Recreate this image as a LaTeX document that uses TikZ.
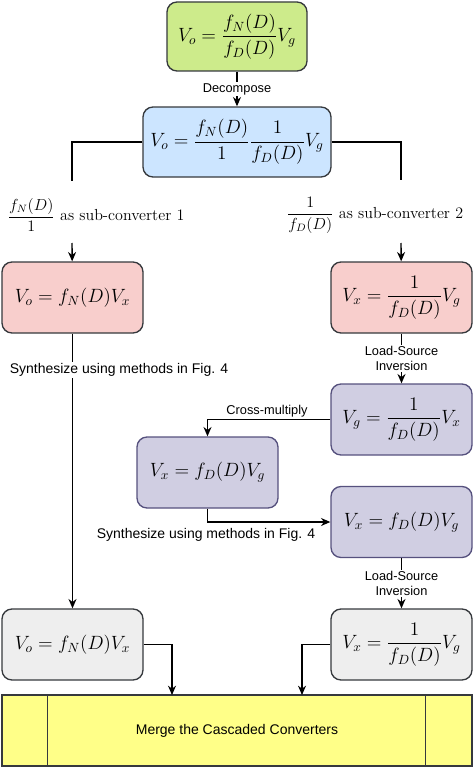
\documentclass[tikz,border=0pt]{standalone}
\usepackage{fontspec}
\usepackage{amsmath}
\newfontfamily\labfont{Liberation Sans}
\usetikzlibrary{arrows.meta,calc}
\definecolor{bd}{HTML}{36393D}
\definecolor{pbd}{HTML}{56517E}
\definecolor{cgreen}{HTML}{CDEB8B}
\definecolor{cblue}{HTML}{CCE5FF}
\definecolor{cred}{HTML}{F8CECC}
\definecolor{cpurp}{HTML}{D0CEE2}
\definecolor{cgray}{HTML}{EEEEEE}
\definecolor{cyell}{HTML}{FFFF88}
\begin{document}
\begin{tikzpicture}[x=0.75pt,y=-0.75pt,
  box/.style={draw=bd, line width=1pt, rounded corners=7.5pt, minimum width=105.75pt, minimum height=53.25pt, inner sep=0pt, font=\fontsize{13.7}{16}\selectfont, align=center},
  arr/.style={-{Stealth[length=7pt,width=6pt]}, line width=1.05pt},
  ln/.style={line width=1.05pt},
  lab/.style={font=\labfont\fontsize{9.6}{11.2}\selectfont, fill=white, inner sep=1pt, align=center},
  biglab/.style={font=\labfont\fontsize{10.5}{12}\selectfont, fill=white, inner sep=1pt, align=center},
  mlab/.style={font=\fontsize{12}{14}\selectfont, inner sep=0pt}]
\useasboundingbox (0,0) rectangle (474,767);

\node[box, fill=cgreen, minimum width=105pt, minimum height=51.75pt] (top) at (237,36.5) {$\displaystyle V_o=\frac{f_N(D)}{f_D(D)}V_g$};
\node[box, fill=cblue, minimum width=141pt, minimum height=52.5pt] (dec) at (237,142) {$\displaystyle V_o=\frac{f_N(D)}{1}\frac{1}{f_D(D)}V_g$};

\node[box, fill=cred] (rl) at (72.5,297.5) {$V_o=f_N(D)V_x$};
\node[box, fill=cred] (rr) at (401.5,297.5) {$\displaystyle V_x=\frac{1}{f_D(D)}V_g$};

\node[box, fill=cpurp, draw=pbd] (p1) at (401.5,419.5) {$\displaystyle V_g=\frac{1}{f_D(D)}V_x$};
\node[box, fill=cpurp, draw=pbd] (p2) at (207.5,472.5) {$V_x=f_D(D)V_g$};
\node[box, fill=cpurp, draw=pbd] (p3) at (401.5,522) {$V_x=f_D(D)V_g$};

\node[box, fill=cgray] (gl) at (72.5,644.5) {$V_o=f_N(D)V_x$};
\node[box, fill=cgray] (gr) at (401.5,644.5) {$\displaystyle V_x=\frac{1}{f_D(D)}V_g$};

\node[draw=bd, line width=1pt, fill=cyell, minimum width=352.5pt, minimum height=53.25pt, inner sep=0pt, font=\labfont\fontsize{10.5}{12}\selectfont] (yel) at (237,730.5) {Merge the Cascaded Converters};
\draw[draw=bd, line width=1pt] ([xshift=34.5pt]yel.north west) -- ([xshift=34.5pt]yel.south west);
\draw[draw=bd, line width=1pt] ([xshift=-35.25pt]yel.north east) -- ([xshift=-35.25pt]yel.south east);

% top
\draw[arr] (top) -- node[lab] {Decompose} (dec);

% branches
\coordinate (bl) at (72,181);
\coordinate (br) at (401,180);
\draw[ln] (dec.west) -| (bl);
\draw[ln] (dec.east) -| (br);
\node[mlab] (l1) at (96,215) {$\displaystyle\frac{f_N(D)}{1}$ as sub-converter 1};
\node[mlab] (l2) at (375,215) {$\displaystyle\frac{1}{f_D(D)}$ as sub-converter 2};
\coordinate (al) at (72,243);
\coordinate (ar) at (401,243);
\draw[arr] (al) -- (rl);
\draw[arr] (ar) -- (rr);

% left column
\draw[arr] (rl) -- (gl);
\node[biglab] (s1) at (119,370) {Synthesize using methods in Fig. 4};

% right column
\draw[arr] (rr) -- node[lab] {Load-Source\\Inversion} (p1);
\draw[arr] (p1.west) -| (p2.north);
\node[lab, fill=none] (cm) at (267,411) {Cross-multiply};
\draw[arr] (p2.south) |- (p3.west);
\node[biglab, fill=none] (s2) at (206,535) {Synthesize using methods in Fig. 4};
\draw[arr] (p3) -- node[lab] {Load-Source\\Inversion} (gr);

% merge
\coordinate (m1) at (172,695);
\coordinate (m2) at (302,695);
\draw[arr] (gl.east) -| (m1);
\draw[arr] (gr.west) -| (m2);
\end{tikzpicture}
\end{document}
